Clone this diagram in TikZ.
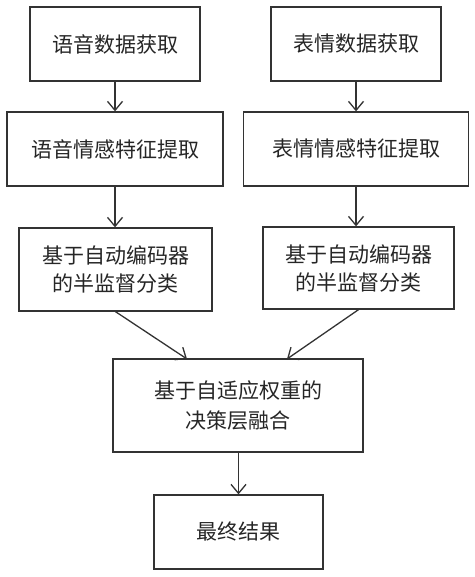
\documentclass[tikz,border=0pt]{standalone}
\usepackage{fontspec}
\newfontfamily\cjk{Noto Sans CJK SC}
\usetikzlibrary{arrows.meta}
\begin{document}
\begin{tikzpicture}[x=1pt,y=-1pt,
  box/.style={draw=black!80, line width=1.3pt, inner sep=0pt, align=center,
    font=\cjk\fontsize{21}{28}\selectfont, text=black!85},
  conn/.style={draw=black!80, line width=1.3pt, -{Straight Barb[length=9pt,width=15pt,line width=1.3pt]}}]
\useasboundingbox (0,0) rectangle (474,577);
\node[box, minimum width=170pt, minimum height=74pt] (a1) at (115,44) {语音数据获取};
\node[box, minimum width=170pt, minimum height=74pt] (b1) at (356,44) {表情数据获取};
\node[box, minimum width=216pt, minimum height=74pt] (a2) at (115,149) {语音情感特征提取};
\node[box, minimum width=225pt, minimum height=74pt] (b2) at (356,149) {表情情感特征提取};
\node[box, minimum width=193pt, minimum height=83pt] (a3) at (115.5,269.5) {基于自动编码器\\的半监督分类};
\node[box, minimum width=191pt, minimum height=82pt] (b3) at (358.5,268) {基于自动编码器\\的半监督分类};
\node[box, minimum width=250pt, minimum height=93pt, font=\cjk\fontsize{21}{30}\selectfont] (c) at (238,405.5) {基于自适应权重的\\决策层融合};
\node[box, minimum width=169pt, minimum height=74pt] (d) at (238.5,532) {最终结果};
\draw[conn] (a1.south) -- (a2.north);
\draw[conn] (b1.south) -- (b2.north);
\draw[conn] (a2.south) -- (a2.south |- a3.north);
\draw[conn] (b2.south) -- (b2.south |- b3.north);
\coordinate (ca) at (187,359);
\coordinate (cb) at (287,359);
\draw[conn] (a3.south) -- (ca);
\draw[conn] (b3.south) -- (cb);
\draw[conn] (c.south -| d.north) -- (d.north);
\end{tikzpicture}
\end{document}
